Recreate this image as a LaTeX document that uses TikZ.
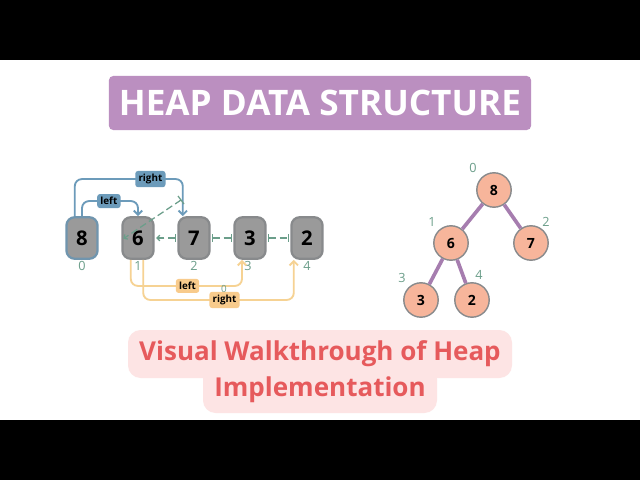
\documentclass[tikz,border=0pt]{standalone}
\usepackage{fontspec}
\setmainfont{Open Sans}
\usetikzlibrary{arrows.meta}

\definecolor{titlepurple}{HTML}{BB8FC0}
\definecolor{subpink}{HTML}{FDE4E4}
\definecolor{subred}{HTML}{E65A5C}
\definecolor{cellgray}{HTML}{9A9A9A}
\definecolor{cellline}{HTML}{888A8C}
\definecolor{linkblue}{HTML}{6C9BBA}
\definecolor{linkorange}{HTML}{F6D293}
\definecolor{tagorange}{HTML}{F8CB8C}
\definecolor{dashgreen}{HTML}{6B9E8A}
\definecolor{heapfill}{HTML}{F7B59B}
\definecolor{heapedge}{HTML}{A67DAF}

\begin{document}
\begin{tikzpicture}
		[x=0.025cm,y=-0.025cm,
		 cell/.style={draw=cellline, line width=1.6pt, fill=cellgray, rounded corners=6pt,
		              minimum width=0.78cm, minimum height=1.04cm, font=\bfseries\Large},
		 idx/.style={text=dashgreen, font=\small, inner sep=1pt},
		 bluetag/.style={fill=linkblue, rounded corners=2pt, font=\bfseries\scriptsize, inner sep=2.3pt},
		 orangetag/.style={fill=tagorange, rounded corners=2pt, font=\bfseries\scriptsize, inner sep=2.3pt},
		 bluelink/.style={draw=linkblue, line width=1.3pt, rounded corners=5pt, -{Straight Barb[length=3pt,width=6pt]}},
		 orangelink/.style={draw=linkorange, line width=1.3pt, rounded corners=5pt, -{Straight Barb[length=3pt,width=6pt]}},
		 greenlink/.style={draw=dashgreen, line width=0.9pt, dash pattern=on 5pt off 2.5pt},
		 heap/.style={circle, draw=cellline, line width=1pt, fill=heapfill, minimum size=0.86cm, font=\bfseries},
		 heapline/.style={draw=heapedge, line width=2.6pt}]
	\fill[white] (0,0) rectangle (640,480);
	\fill[black] (0,0) rectangle (640,60);
	\fill[black] (0,420) rectangle (640,480);

	\node (title) [fill=titlepurple, rounded corners=3pt, text=white, font=\bfseries\fontsize{25}{30}\selectfont,
		minimum width=10.55cm, minimum height=1.35cm] at (320,103) {HEAP DATA STRUCTURE};

	\fill[subpink, rounded corners=9pt] (128,330) rectangle (512,378);
	\fill[subpink, rounded corners=9pt] (203,366) rectangle (437,413);
	\node (sub1) [text=subred, font=\bfseries\fontsize{18.5}{22}\selectfont] at (320,354) {Visual Walkthrough of Heap};
	\node (sub2) [text=subred, font=\bfseries\fontsize{18.5}{22}\selectfont] at (320,390) {Implementation};

	\node (a0) [cell, draw=linkblue!80!gray] at (82,238) {8};
	\node (a1) [cell] at (138,238) {6};
	\node (a2) [cell] at (194,238) {7};
	\node (a3) [cell] at (250,238) {3};
	\node (a4) [cell] at (307,238) {2};
	\node [idx, anchor=north] at (a0.south) {0};
	\node [idx, anchor=north] at (a1.south) {1};
	\node [idx, anchor=north] at (a2.south) {2};
	\node [idx, anchor=north] at ([xshift=-0.05cm]a3.south) {3};
	\node [idx, anchor=north] at (a4.south) {4};

	\draw[bluelink] ([xshift=-0.18cm]a0.north) -- ++(0,-37) -| node[pos=0.35, bluetag]{right} ([xshift=-0.28cm]a2.north);
	\draw[bluelink] (a0.north) -- ++(0,-15) -| node[pos=0.24, bluetag]{left} (a1.north);

	\coordinate (diagend) at (181,200);
	\draw[greenlink, -{Straight Barb[length=2pt,width=4pt]}] (diagend) -- ([xshift=0.05cm,yshift=-0.02cm]a1.west);
	\draw[greenlink, {Bar[width=5pt]}-{Straight Barb[length=2pt,width=4pt]}] ([xshift=-1pt]a2.west) -- ([xshift=1pt]a1.east);
	\draw[greenlink, {Bar[width=5pt]}-{Bar[width=5pt]}] ([xshift=1pt]a2.east) -- ([xshift=-1pt]a3.west);
	\draw[greenlink, {Bar[width=5pt]}-{Bar[width=5pt]}] ([xshift=1pt]a3.east) -- ([xshift=-1pt]a4.west);
	\draw[dashgreen, line width=0.9pt] (diagend) ++(-3,-4) -- ++(6,8);

	\draw[orangelink] ([xshift=-0.18cm]a1.south) -- ++(0,26) -| node[pos=0.255, orangetag]{left} ([xshift=-0.2cm]a3.south);
	\node (hop) [idx, font=\scriptsize] at (224,289) {0};
	\draw[orangelink] ([xshift=0.13cm]a1.south) -- ++(0,40) -| node[pos=0.27, orangetag]{right} ([xshift=-0.33cm]a4.south);

	\node (t8) [heap] at (494,190) {8};
	\node (t6) [heap] at (451,243) {6};
	\node (t7) [heap] at (531,243) {7};
	\node (t3) [heap] at (421,300) {3};
	\node (t2) [heap] at (472,300) {2};
	\draw[heapline] (t8) -- (t6);
	\draw[heapline] (t8) -- (t7);
	\draw[heapline] (t6) -- (t3);
	\draw[heapline] (t6) -- (t2);
	\node [idx] at (473,168) {0};
	\node [idx] at (432,222) {1};
	\node [idx] at (546,222) {2};
	\node [idx] at (402,278) {3};
	\node [idx] at (479,275) {4};
\end{tikzpicture}
\end{document}
